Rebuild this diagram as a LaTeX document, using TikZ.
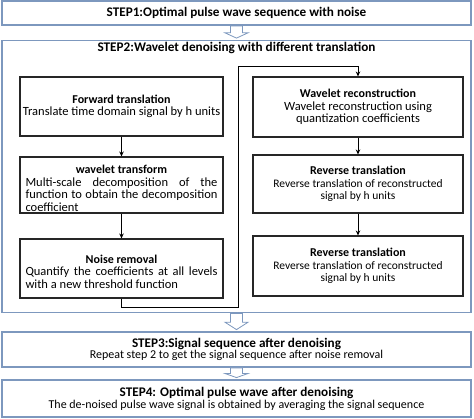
\documentclass[tikz,border=0pt]{standalone}
\usepackage{fontspec}
\setmainfont{Carlito}
\usetikzlibrary{calc,arrows.meta}
\definecolor{stepblue}{RGB}{125,152,190}
\newcommand{\ttl}[1]{{\fontsize{12}{12.5}\selectfont\bfseries #1}}
\tikzset{
  stepbox/.style={draw=stepblue, line width=1.8pt, fill=white, inner sep=0pt, align=center},
  innerbox/.style={draw=black!85, line width=1.1pt, inner sep=0pt, align=center,
    font=\fontsize{12.5}{12.6}\selectfont},
  smallbox/.style={innerbox, font=\fontsize{11.5}{12.5}\selectfont},
  flow/.style={-{Stealth[length=5pt,width=4.5pt]}, line width=1pt, black},
  hollow/.style={draw=stepblue, line width=0.8pt, fill=white},
  bigtitle/.style={font=\fontsize{13.2}{14}\selectfont\bfseries},
}
\newcommand{\hollowarrow}[2]{%
  \draw[hollow] let \p1=(#1.south), \p2=(#2.north), \n1={0.5*\y1+0.5*\y2} in
    (\x1-6pt,\y1) -- (\x1-6pt,\n1) -- (\x1-11.5pt,\n1) -- (\x1,\y2+1.5pt)
    -- (\x1+11.5pt,\n1) -- (\x1+6pt,\n1) -- (\x1+6pt,\y1) -- cycle;}
\begin{document}
\begin{tikzpicture}[x=1pt,y=-1pt]
\useasboundingbox (0,0) rectangle (474,419);
% step boxes
\node[stepbox, minimum width=469pt, minimum height=24pt, bigtitle] (s1) at (236.5,13.2)
  {STEP1:Optimal pulse wave sequence with noise};
\node[stepbox, minimum width=469pt, minimum height=272pt] (s2) at (236.5,176.5) {};
\node[bigtitle] (s2t) at (236.5,48) {STEP2:Wavelet denoising with different translation};
\node[stepbox, minimum width=469pt, minimum height=35pt] (s3) at (236.5,349.5)
  {{\fontsize{13.2}{13}\selectfont\bfseries STEP3:Signal sequence after denoising}\\[-1pt]
   {\fontsize{12}{12}\selectfont Repeat step 2 to get the signal sequence after noise removal}};
\node[stepbox, minimum width=469pt, minimum height=37pt] (s4) at (236.5,398.5)
  {{\fontsize{13.2}{13}\selectfont\bfseries STEP4: Optimal pulse wave after denoising}\\[0pt]
   {\fontsize{12}{12}\selectfont The de-noised pulse wave signal is obtained by averaging the signal sequence}};
% hollow arrows
\hollowarrow{s1}{s2}
\hollowarrow{s2}{s3}
\hollowarrow{s3}{s4}
% inner left column
\node[innerbox, minimum width=203pt, minimum height=59pt] (ft) at (121.5,106.5)
  {\ttl{Forward translation}\\Translate time domain signal by h units};
\node[innerbox, minimum width=203pt, minimum height=56pt] (wt) at (121.5,185)
  {\rule{0pt}{15pt}\ttl{wavelet transform}\\
   \makebox[192pt][s]{Multi-scale decomposition of the}\\
   \makebox[192pt][s]{function to obtain the decomposition}\\
   \makebox[192pt][l]{coefficient}};
\node[innerbox, minimum width=203pt, minimum height=59pt] (nr) at (121.5,268.5)
  {\rule{0pt}{15pt}\ttl{Noise removal}\\
   \makebox[192pt][s]{Quantify the coefficients at all levels}\\
   \makebox[192pt][l]{with a new threshold function}};
% inner right column
\node[innerbox, minimum width=210pt, minimum height=60pt] (wr) at (358,107)
  {\ttl{Wavelet reconstruction}\\Wavelet reconstruction using\\quantization coefficients};
\node[smallbox, minimum width=210pt, minimum height=58pt] (rt1) at (358,184)
  {\ttl{Reverse translation}\\Reverse translation of reconstructed\\signal by h units};
\node[smallbox, minimum width=210pt, minimum height=60pt] (rt2) at (358,266)
  {\ttl{Reverse translation}\\Reverse translation of reconstructed\\signal by h units};
% connectors
\draw[flow] (ft) -- (wt);
\draw[flow] (wt) -- (nr);
\coordinate (c1) at (238,308);
\coordinate (c2) at (238,67);
\draw[line width=1pt] (nr.south) |- (c1) -- (c2);
\draw[flow] (c2) -| (wr.north);
\draw[flow] (wr) -- (rt1);
\draw[flow] (rt1) -- (rt2);
\end{tikzpicture}
\end{document}
